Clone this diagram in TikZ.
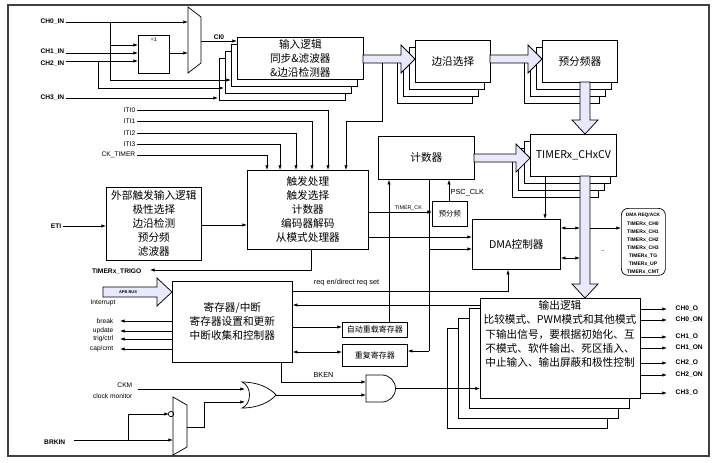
\documentclass[tikz,border=0pt]{standalone}
\usepackage{fontspec}
\setmainfont{Liberation Sans}
\newfontfamily\cjk{Noto Sans CJK SC}
\usetikzlibrary{positioning,arrows.meta}

% box from its top left and bottom right corner (pixel units)
\newcommand\blkat[6]{\node[blk,minimum width={(#4-#2)*0.75pt},minimum height={(#5-#3)*0.75pt},anchor=north west] (#1) at (#2,#3) {#6};}
% three layers behind a box
\newcommand\layers[6]{\foreach \k in {3,2,1}{\draw[layer] ({#1+\k*#5},{#2+\k*#6}) rectangle ({#3+\k*#5},{#4+\k*#6});}}
% wide hollow arrows
\newcommand\rbus[3]{\draw[bus] (#1,#3-4) -- (#2-14,#3-4) -- (#2-14,#3-14) -- (#2,#3) -- (#2-14,#3+14) -- (#2-14,#3+4) -- (#1,#3+4) -- cycle;}
\newcommand\dbus[3]{\draw[bus] (#3-5,#1) -- (#3-5,#2-14) -- (#3-13,#2-14) -- (#3,#2) -- (#3+13,#2-14) -- (#3+5,#2-14) -- (#3+5,#1) -- cycle;}

\begin{document}
\begin{tikzpicture}[x=0.75pt,y=-0.75pt,line width=0.55pt,
  blk/.style={draw,fill=white,align=center,inner sep=1pt,font=\cjk\fontsize{8}{10.5}\selectfont},
  layer/.style={draw,fill=white},
  bus/.style={draw,fill=blue!9},
  lbl/.style={font=\bfseries\fontsize{5}{6}\selectfont,inner sep=1pt},
  tiny/.style={font=\fontsize{4}{5}\selectfont,inner sep=0.5pt},
  ar/.style={-{Latex[length=3.5pt,width=2.5pt]}},
  dar/.style={{Latex[length=3.5pt,width=2.5pt]}-{Latex[length=3.5pt,width=2.5pt]}}]
\useasboundingbox (0,0) rectangle (720,462);
\draw[line width=0.9pt,black!75] (8,5) rectangle (709,456);

% input side
\node[lbl,anchor=east] (ch0) at (66,22) {CH0\_IN};
\node[lbl,anchor=east] (ch1) at (66,52) {CH1\_IN};
\node[lbl,anchor=east] (ch2) at (66,64) {CH2\_IN};
\node[lbl,anchor=east] (ch3) at (66,98) {CH3\_IN};
\draw (188,7) -- (201,17) -- (201,63) -- (188,73) -- cycle;
\coordinate (mux) at (201,41);
\node[draw,minimum width={31*0.75pt},minimum height={38*0.75pt},anchor=north west,inner sep=0] (xor) at (138,35) {};
\node[tiny,below=1pt of xor.north] {=1};

\layers{237}{37}{363}{79}{-6}{7}
\blkat{inlog}{237}{37}{363}{79}{输入逻辑\\同步\&滤波器\\\&边沿检测器}
\draw[ar] (ch0.east) -- (188,22);
\draw (110,22) -- (110,80);
\draw[ar] (110,45) -- (xor.west |- 0,45);
\draw[ar] (ch1.east |- 0,53) -- (xor.west |- 0,53);
\draw[ar] (ch2.east |- 0,61) -- (xor.west |- 0,61);
\draw[ar] (xor.east |- 0,53) -- (188,53);
\draw[ar] (110,80) -- (231,80);
\draw[ar] (98,61) -- (98,88) -- (224,88);
\draw[ar] (ch3.east) -- (218,98);
\draw[ar] (mux) -- node[tiny,above,font=\bfseries\fontsize{5}{6}\selectfont] {CI0} (inlog.west |- mux);

\layers{415}{40}{490}{82}{-6}{7}
\blkat{edge}{415}{40}{490}{82}{边沿选择}
\layers{542}{40}{617}{82}{-6}{7}
\blkat{psc}{542}{40}{617}{82}{预分频器}
\rbus{363}{415}{59}
\rbus{490}{542}{59}

\layers{530}{134}{616}{176}{-6}{7}
\blkat{ccv}{530}{134}{616}{176}{TIMERx\_CHxCV}
\dbus{82}{134}{585}
\blkat{cnt}{378}{136}{474}{179}{计数器}
\rbus{474}{530}{158}

% trigger
\blkat{trg}{247}{170}{368}{249}{\fontsize{8}{11}\selectfont 触发处理\\触发选择\\计数器\\编码器解码\\从模式处理器}
\blkat{eti}{106}{187}{201}{260}{\fontsize{8}{10}\selectfont 外部触发输入逻辑\\极性选择\\边沿检测\\预分频\\滤波器}
\node[lbl,anchor=east] (etil) at (63,226) {ETI};
\draw[ar] (etil.east) -- (eti.west |- etil);
\draw[ar] (eti.east |- 0,225) -- (trg.west |- 0,225);
\foreach \nm/\yy/\xx in {ITI0/110/328,ITI1/121/312,ITI2/133/296,ITI3/144/280,CK\_TIMER/155/267}{
  \node[lbl,anchor=east,font=\fontsize{5}{6}\selectfont] (iti) at (137,\yy) {\nm};
  \draw[ar] (iti.east) -- (\xx,\yy) -- (trg.north -| \xx,0);
}
\draw[ar] (382,63) -- (382,121) -- (346,121) -- (trg.north -| 346,0);
\node[lbl,anchor=east] (trgo) at (143,272) {TIMERx\_TRIGO};
\draw[ar] (trg.south -| 311,0) -- (311,270) -- (150,270);

% counter area
\blkat{pre}{432}{201}{467}{226}{\fontsize{5.5}{6}\selectfont 预分频}
\blkat{dma}{472}{219}{560}{269}{DMA控制器}
\draw[ar] (trg.east |- 0,212) -- node[tiny,above,pos=0.5,xshift=6pt] {TIMER\_CK} (pre.west |- 0,212);
\fill (429,212) circle (1.2pt);
\draw[ar] (pre.north -| 449,0) -- node[lbl,right,font=\fontsize{5.5}{6}\selectfont,pos=0.4] {PSC\_CLK} (cnt.south -| 449,0);
\draw[ar] (trg.east |- 0,237) -- (dma.west |- 0,237);
\draw (cnt.south -| 429,0) -- (429,351);
\draw[ar] (429,249) -- (dma.west |- 0,249);
\draw[ar] (ccv.south -| 545,0) -- (dma.north -| 545,0);

\layers{480}{298}{640}{398}{-11}{10}
\node[draw,fill=white,minimum width={160*0.75pt},minimum height={100*0.75pt},anchor=north west,inner sep=0] (outl) at (480,298) {};
\node[anchor=north,align=center,inner sep=0,font=\cjk\fontsize{8}{10.8}\selectfont] at (560,300) {输出逻辑\\比较模式、PWM模式和其他模式\\下输出信号，要根据初始化、互\\不模式、软件输出、死区插入、\\中止输入、输出屏蔽和极性控制};
\dbus{176}{298}{585}
\draw[dar] (dma.east |- 0,228) -- (580,228);
\draw[dar] (dma.east |- 0,258) -- (580,258);
\node[draw,rounded corners=5pt,minimum width={44*0.75pt},minimum height={67*0.75pt},anchor=north west,inner sep=0] (req) at (621,208) {};
\draw[ar] (590,228) -- (req.west |- 0,228);
\node[tiny,font=\fontsize{3.6}{4}\selectfont] at (603,252) {--};
\node[tiny,font=\fontsize{3.6}{4}\selectfont\bfseries] at (643,215) {DMA REQ/ACK};
\node[anchor=north,align=center,inner sep=0,font=\bfseries\fontsize{3.8}{5.9}\selectfont] at (643,222) {TIMERx\_CH0\\TIMERx\_CH1\\TIMERx\_CH2\\TIMERx\_CH3\\TIMERx\_TG\\TIMERx\_UP\\TIMERx\_CMT};

% register block
\blkat{reg}{172}{281}{292}{362}{\fontsize{8}{10.2}\selectfont 寄存器/中断\\寄存器设置和更新\\中断收集和控制器}
\draw[bus] (103,287) -- (157,287) -- (157,278) -- (172,292) -- (157,306) -- (157,297) -- (103,297) -- cycle;
\node[tiny,font=\fontsize{3}{3}\selectfont\bfseries] at (128,292) {APB BUS};
\node[lbl,font=\fontsize{5}{6}\selectfont] at (103,303) {Interrupt};
\foreach \nm/\yy in {break/321,update/331,{trig/ctrl}/339,{cap/cmt}/349}{
  \node[lbl,anchor=east,font=\fontsize{5}{6}\selectfont] (o) at (115,\yy) {\nm};
  \draw[ar] (reg.west |- 0,\yy) -- (120,\yy);
}
\draw[ar] (reg.east |- 0,291) -- node[above,font=\fontsize{5.5}{6}\selectfont,pos=0.25] {req en/direct req set} (508,291) -- (dma.south -| 508,0);
\draw[ar] (outl.west |- 0,305) -- (reg.east |- 0,305);
\blkat{arr}{342}{322}{407}{337}{\fontsize{6}{6}\selectfont 自动重载寄存器}
\blkat{rep}{342}{344}{407}{366}{\fontsize{6}{6}\selectfont 重复寄存器}
\draw[ar] (reg.east |- 0,327) -- (arr.west |- 0,327);
\draw[dar] (reg.east |- 0,352) -- (rep.west |- 0,352);
\draw[ar] (429,351) -- (rep.east |- 0,351);
\draw[ar] (arr.north -| 389,0) -- (cnt.south -| 389,0);

% break logic
\draw (242,382) .. controls (252,386) and (252,404) .. (242,408) .. controls (258,408) and (270,402) .. (276,395) .. controls (270,388) and (258,382) .. (242,382) -- cycle;
\coordinate (orout) at (276,395);
\draw (366,375) -- (382,375) arc (-90:90:13.5) -- (366,402) -- cycle;
\coordinate (andout) at (395.5,388.5);
\draw (173,397) -- (187,405) -- (187,447) -- (173,455) -- cycle;
\draw (171,414) circle (2pt);
\draw[ar] (reg.south -| 281,0) -- (281,382) -- node[above,font=\fontsize{5.5}{6}\selectfont] {BKEN} (366,382);
\draw[ar] (orout) -- (366,395);
\draw[ar] (andout) -- (outl.west |- andout);
\node[lbl,anchor=east,font=\fontsize{5}{6}\selectfont] (ckm) at (134,385) {CKM};
\node[lbl,anchor=east,font=\fontsize{5}{6}\selectfont] at (134,396) {clock monitor};
\draw[ar] (138,389) -- (245,389);
\node[lbl,anchor=east] (brk) at (67,442) {BRKIN};
\draw[ar] (74,440) -- (173,440);
\draw[ar] (128,440) -- (128,414) -- (169,414);
\draw[ar] (187,427) -- (204,427) -- (204,402) -- (245,402);

% outputs
\foreach \nm/\yy in {CH0\_O/309,CH0\_ON/320,CH1\_O/337,CH1\_ON/348,CH2\_O/363,CH2\_ON/375,CH3\_O/393}{
  \node[lbl,anchor=west] (q) at (674,\yy) {\nm};
  \draw[ar] (outl.east |- 0,\yy) -- (667,\yy);
}
\end{tikzpicture}
\end{document}
